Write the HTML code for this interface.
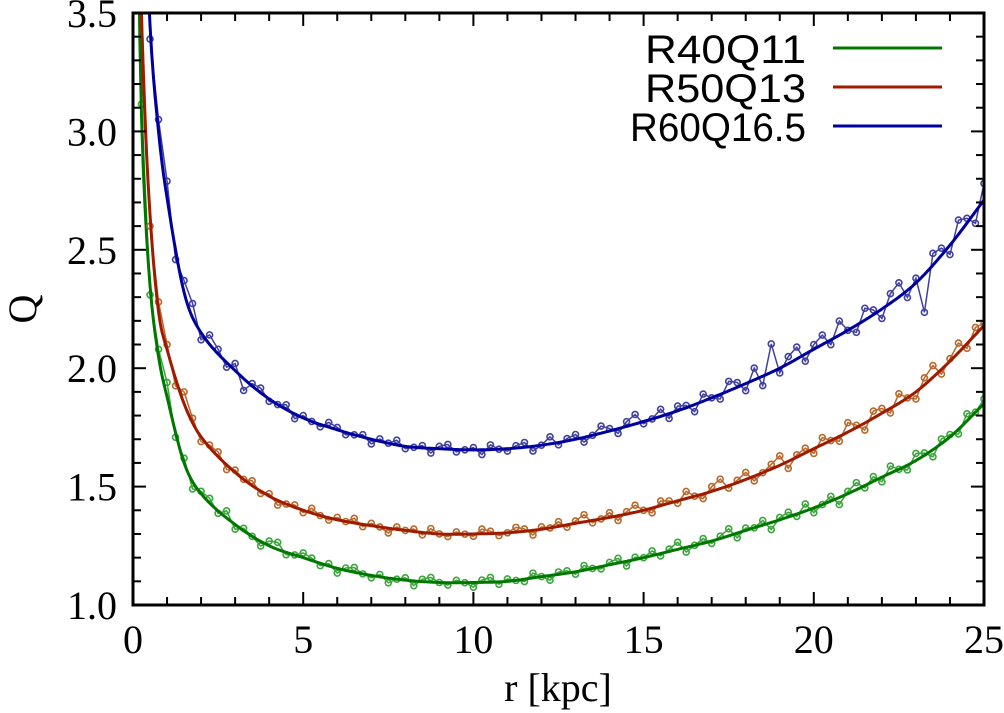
<!DOCTYPE html>
<html><head><meta charset="utf-8"><style>
body{margin:0;background:#fff;}
svg{display:block;}
.tk{font-family:"Liberation Serif",serif;font-size:40px;fill:#000;}
.lg{font-family:"Liberation Sans",sans-serif;font-size:40px;fill:#000;}
</style></head><body>
<svg id="chart" width="1004" height="713">
<defs><clipPath id="pc"><rect x="133" y="13" width="851" height="592"/></clipPath></defs>
<g id="marks" clip-path="url(#pc)"></g>
<g id="axes"></g>
<g id="legend"></g>
</svg>
<script>
const xTicks=[0,5,10,15,20,25];
const yTicks=[1.0,1.5,2.0,2.5,3.0,3.5];
const seriesNames=["R40Q11","R50Q13","R60Q16.5"];
const fitR=[0.1,0.2,0.3,0.5,0.75,1,1.5,2,3,4,5,6,7,8,9,10,11,12,13,14,15,16,17,18,19,20,21,22,23,24,25];
const fitGreen=[4.5,3.4,2.85,2.35,2.05,1.88,1.6,1.47,1.34,1.25,1.20,1.155,1.125,1.105,1.095,1.095,1.10,1.12,1.14,1.17,1.20,1.235,1.27,1.315,1.36,1.41,1.47,1.54,1.61,1.71,1.85];
const fitRed=[5.5,3.9,3.25,2.65,2.24,2.08,1.85,1.71,1.56,1.46,1.40,1.36,1.335,1.315,1.30,1.30,1.305,1.32,1.345,1.37,1.40,1.44,1.48,1.53,1.59,1.66,1.73,1.81,1.90,2.03,2.18];
const fitBlue=[6.0,5.0,4.2,3.45,3.0,2.72,2.32,2.15,1.99,1.87,1.79,1.74,1.70,1.67,1.66,1.655,1.66,1.675,1.70,1.735,1.775,1.82,1.875,1.935,2.00,2.08,2.16,2.25,2.36,2.52,2.71];
const devGreen=[0.05,-0.04,0.03,0.06,-0.02,0.02,-0.03,0.01,0.02,-0.01,0.03,-0.02,0.01,0.00,-0.02,0.02,0.03,-0.01,0.00,0.02,0.01,-0.01,0.01,-0.02,0.01,0.02,0.00,-0.01,0.01,-0.02,0.00,0.01,-0.02,0.01,0.02,0.00,-0.01,0.01,0.00,-0.02,0.01,0.02,-0.01,0.01,0.00,-0.01,0.02,0.00,-0.02,0.01,0.01,-0.01,0.02,0.00,-0.01,0.01,0.02,-0.02,0.01,0.00,0.02,-0.01,0.01,0.03,-0.02,0.00,0.02,-0.01,0.01,0.03,-0.02,0.01,0.00,0.02,-0.03,0.01,0.02,-0.01,0.03,-0.02,0.00,0.02,-0.03,0.01,0.03,-0.01,0.02,-0.02,0.03,0.00,-0.02,0.03,0.01,-0.03,0.02,0.01,-0.02,0.03,0.00,0.02];
const devRed=[0.06,-0.05,0.04,0.02,-0.03,0.05,0.02,-0.02,0.01,0.02,-0.02,0.01,0.00,0.02,-0.01,0.01,-0.02,0.00,0.01,-0.01,0.02,0.00,-0.01,0.01,0.00,0.02,-0.01,0.01,0.00,-0.02,0.01,0.00,0.01,-0.01,0.02,0.00,-0.01,0.01,0.00,-0.01,0.02,0.01,-0.01,0.00,0.02,0.01,-0.02,0.01,0.00,0.02,-0.01,0.01,0.03,-0.01,0.00,0.02,-0.02,0.01,0.03,0.00,-0.02,0.02,0.01,-0.01,0.03,0.00,-0.02,0.02,0.04,-0.01,0.01,0.03,-0.02,0.00,0.02,0.04,-0.03,0.01,0.02,-0.02,0.03,0.00,-0.02,0.04,0.01,-0.03,0.03,0.02,-0.02,0.04,0.00,-0.03,0.03,0.05,-0.02,0.01,0.04,-0.02,0.03,0.01];
const devBlue=[0.08,-0.06,0.05,0.07,-0.04,0.05,0.06,-0.03,0.04,0.02,-0.02,0.03,-0.05,0.01,0.02,-0.01,0.00,0.02,-0.02,0.01,0.00,-0.01,0.02,0.01,-0.01,0.00,0.01,-0.02,0.01,0.00,0.02,-0.01,0.00,0.01,-0.02,0.01,0.02,-0.01,0.00,0.01,-0.02,0.02,0.00,-0.01,0.01,0.02,-0.02,0.00,0.03,-0.01,0.01,0.02,-0.02,0.00,0.03,0.01,-0.02,0.02,0.04,-0.01,0.00,0.03,-0.02,0.02,0.01,-0.03,0.03,0.00,-0.02,0.04,0.02,-0.03,0.05,-0.04,0.12,-0.02,0.03,0.05,-0.03,0.02,0.04,-0.02,0.06,0.00,-0.03,0.05,0.02,-0.04,0.04,0.06,-0.03,0.02,-0.16,0.05,0.03,-0.04,0.06,0.02,-0.05,0.07];
const pointStep=0.25;
</script>
<script>
const X0=133,X1=984,Y0=605,Y1=13;
const xs=r=>X0+(r/25)*(X1-X0);
const ys=q=>Y0-(q-1)/2.5*(Y0-Y1);
const NS="http://www.w3.org/2000/svg";
function mk(t,a,p){const e=document.createElementNS(NS,t);for(const k in a)e.setAttribute(k,a[k]);p.appendChild(e);return e;}
function interp(arr,r){
  let i=0;while(i<fitR.length-2&&r>fitR[i+1])i++;
  if(r<=fitR[0])return arr[0];
  const x0=fitR[i],x1=fitR[i+1],t=(r-x0)/(x1-x0);
  const p0=arr[Math.max(i-1,0)],p1=arr[i],p2=arr[i+1],p3=arr[Math.min(i+2,arr.length-1)];
  const xm=fitR[Math.max(i-1,0)],xp=fitR[Math.min(i+2,fitR.length-1)];
  const m1=(p2-p0)/(x1-xm||1)*(x1-x0),m2=(p3-p1)/(xp-x0||1)*(x1-x0);
  const t2=t*t,t3=t2*t;
  return (2*t3-3*t2+1)*p1+(t3-2*t2+t)*m1+(-2*t3+3*t2)*p2+(t3-t2)*m2;
}
const marks=document.getElementById('marks');
const fits=[fitGreen,fitRed,fitBlue],devs=[devGreen,devRed,devBlue];
const lineCol=["#007800","#a01a00","#00009e"],ptCol=["#3aa53a","#b8682a","#4040a0"];
const keys=["green","red","blue"];
for(let s=0;s<3;s++){
  const g=mk('g',{},marks);
  
  
  let pts=[];
  devs[s].forEach((d,i)=>{const r=(i+1)*pointStep;pts.push([xs(r),ys(interp(fits[s],r)+d)]);});
  const pl=mk('polyline',{points:pts.map(p=>p.join(',')).join(' '),fill:'none',stroke:ptCol[s],'stroke-width':1.5},g);
  
  
  pts.forEach(p=>{const c=mk('circle',{cx:p[0],cy:p[1],r:3,fill:'none',stroke:ptCol[s],'stroke-width':1.6},g);
    
    });
  let d="";
  for(let r=0.1;r<=25.001;r+=0.05){d+=(d?"L":"M")+xs(r).toFixed(1)+","+ys(interp(fits[s],r)).toFixed(1);}
  const fl=mk('path',{d:d,fill:'none',stroke:lineCol[s],'stroke-width':3},g);
  
  
}
const ax=document.getElementById('axes');
for(let r=0;r<=25;r++){
  const L=r%5===0?13:8,x=xs(r);
  mk('line',{x1:x,y1:Y0,x2:x,y2:Y0-L,stroke:'#000','stroke-width':2},ax);
  mk('line',{x1:x,y1:Y1,x2:x,y2:Y1+L,stroke:'#000','stroke-width':2},ax);
}
for(let k=0;k<=25;k++){
  const q=1+k*0.1,L=k%5===0?13:8,y=ys(q);
  mk('line',{x1:X0,y1:y,x2:X0+L,y2:y,stroke:'#000','stroke-width':2},ax);
  mk('line',{x1:X1,y1:y,x2:X1-L,y2:y,stroke:'#000','stroke-width':2},ax);
}
const fr=mk('rect',{x:X0,y:Y1,width:X1-X0,height:Y0-Y1,fill:'none',stroke:'#000','stroke-width':3},ax);


xTicks.forEach(v=>{const t=mk('text',{x:xs(v),y:653,'text-anchor':'middle',class:'tk'},ax);t.textContent=v;
  
  });
yTicks.forEach(v=>{const t=mk('text',{x:117,y:ys(v)+14,'text-anchor':'end',class:'tk'},ax);t.textContent=v.toFixed(1);
  
  });
const xt=mk('text',{x:558,y:701,'text-anchor':'middle',class:'tk'},ax);xt.textContent="r [kpc]";


const yt=mk('text',{x:36,y:309,'text-anchor':'middle',class:'tk',transform:'rotate(-90 36 309)'},ax);yt.textContent="Q";


const lg=document.getElementById('legend');
const lgY=[48,87,126];
const lgW=[161,161,176];
seriesNames.forEach((n,i)=>{
  const g=mk('g',{},lg);
  
  
  const t=mk('text',{x:806-lgW[i],y:lgY[i]+15,class:'lg',textLength:lgW[i],lengthAdjust:'spacingAndGlyphs'},g);t.textContent=n;
  mk('line',{x1:833,y1:lgY[i],x2:942,y2:lgY[i],stroke:lineCol[i],'stroke-width':3},g);
});
</script>
</body></html>
